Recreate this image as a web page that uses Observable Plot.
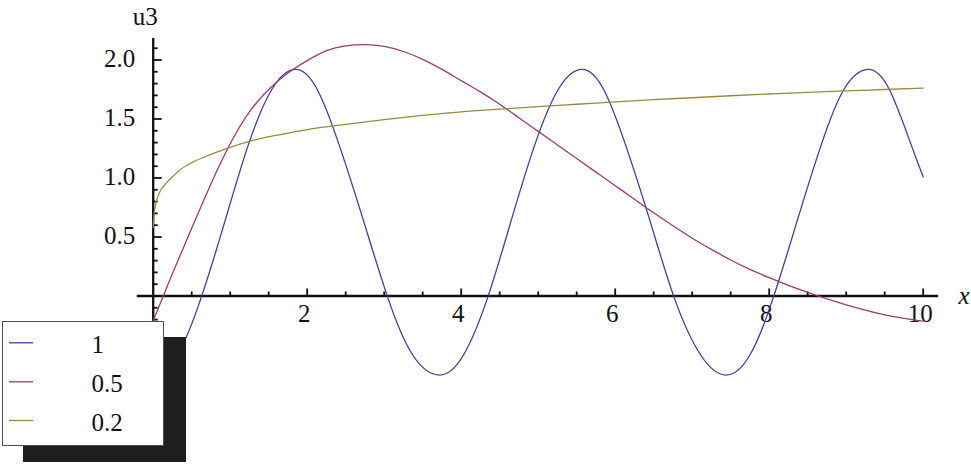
<!DOCTYPE html>
<html><head><meta charset="utf-8">
<script src="https://cdn.jsdelivr.net/npm/d3@7"></script>
<script src="https://cdn.jsdelivr.net/npm/@observablehq/plot@0.6"></script>
<style>
body{margin:0;background:#fff;}
#wrap{position:relative;width:971px;height:466px;overflow:hidden;font-family:"Liberation Serif","DejaVu Serif",serif;background:#fff;}
#chart{position:absolute;left:0;top:0;}
#shadow{position:absolute;left:22.5px;top:337px;width:163px;height:124.5px;background:#1e1e1e;}
#legend{position:absolute;left:1.5px;top:321px;width:162px;height:124.5px;box-sizing:border-box;border:1.5px solid #505050;background:#fff;}
#legend svg{position:absolute;left:0;top:0;}
</style></head><body>
<div id="wrap"><div id="chart"></div><div id="shadow"></div><div id="legend"></div></div>
<script>
// Series (legend order)
const seriesNames = ["1", "0.5", "0.2"];
const seriesColors = ["#3f3f9c", "#993d71", "#998b3d"];

// Series "1"
const blueX = [0, 0.31, 0.62, 0.93, 1.23, 1.54, 1.85, 2.13, 2.42, 2.735, 3.05, 3.37, 3.72, 4.03, 4.34, 4.645, 4.95, 5.26, 5.57, 5.85, 6.14, 6.455, 6.77, 7.11, 7.44, 7.75, 8.05, 8.36, 8.67, 8.97, 9.28, 9.56, 9.85, 10];
const blueY = [-0.67, -0.50, -0.02, 0.63, 1.27, 1.75, 1.92, 1.75, 1.27, 0.63, -0.02, -0.50, -0.67, -0.50, -0.02, 0.63, 1.27, 1.75, 1.92, 1.75, 1.27, 0.63, -0.02, -0.50, -0.67, -0.50, -0.02, 0.63, 1.27, 1.75, 1.92, 1.75, 1.27, 1.01];

// Series "0.5"
const redX = [0, 0.25, 0.5, 0.75, 1, 1.25, 1.5, 1.75, 2, 2.25, 2.5, 2.75, 3, 3.25, 3.5, 3.75, 4, 4.25, 4.5, 4.75, 5, 5.25, 5.5, 5.75, 6, 6.25, 6.5, 6.75, 7, 7.25, 7.5, 7.75, 8, 8.25, 8.5, 8.75, 9, 9.25, 9.5, 9.75, 10];
const redY = [-0.21, 0.19, 0.575, 0.95, 1.29, 1.56, 1.75, 1.89, 1.995, 2.08, 2.12, 2.13, 2.115, 2.072, 2.005, 1.92, 1.825, 1.73, 1.625, 1.51, 1.395, 1.28, 1.165, 1.05, 0.935, 0.82, 0.705, 0.595, 0.49, 0.395, 0.305, 0.225, 0.155, 0.09, 0.03, -0.025, -0.075, -0.12, -0.16, -0.19, -0.213];

// Series "0.2"
const oliveX = [0, 0.01, 0.03, 0.06, 0.1, 0.16, 0.25, 0.35, 0.5, 0.75, 1, 1.25, 1.5, 1.75, 2, 2.5, 3, 3.5, 4, 4.5, 5, 5.5, 6, 6.5, 7, 7.5, 8, 8.5, 9, 9.5, 10];
const oliveY = [0.58, 0.68, 0.77, 0.84, 0.90, 0.95, 1.01, 1.07, 1.13, 1.20, 1.26, 1.31, 1.35, 1.38, 1.41, 1.455, 1.495, 1.53, 1.56, 1.583, 1.605, 1.625, 1.645, 1.665, 1.68, 1.697, 1.712, 1.726, 1.738, 1.75, 1.761];

// Axis ticks
const xMajor = [2, 4, 6, 8, 10];
const xMinor = [0.5, 1, 1.5, 2.5, 3, 3.5, 4.5, 5, 5.5, 6.5, 7, 7.5, 8.5, 9, 9.5];
const yMajor = [0.5, 1.0, 1.5, 2.0];
const yMinor = [-0.7, -0.6, -0.5, -0.4, -0.3, -0.2, -0.1, 0.1, 0.2, 0.3, 0.4, 0.6, 0.7, 0.8, 0.9, 1.1, 1.2, 1.3, 1.4, 1.6, 1.7, 1.8, 1.9, 2.1];
const yLabel = "u3";
const xLabel = "x";

const pts = (xs, ys) => xs.map((x, i) => ({x, y: ys[i]}));
const seriesData = [pts(blueX, blueY), pts(redX, redY), pts(oliveX, oliveY)];
const seriesCurves = ["natural", "natural", "monotone-x"];

const fontStack = "'Liberation Serif', 'DejaVu Serif', serif";
const axisColor = "#111";
const chart = Plot.plot({
  width: 971,
  height: 466,
  marginLeft: 152.7,
  marginRight: 32.9,
  marginTop: 35.9,
  marginBottom: 87.9,
  x: {domain: [0, 10.2], axis: null},
  y: {domain: [-0.7, 2.2], axis: null},
  style: {background: "white", fontFamily: fontStack, overflow: "visible"},
  marks: [
    // axes lines
    Plot.ruleY([0], {stroke: axisColor, strokeWidth: 2.3, insetLeft: -16}),
    Plot.ruleX([0], {stroke: axisColor, strokeWidth: 2.3, insetTop: 2}),
    // y ticks
    Plot.ruleY(yMinor, {y: d => d, x1: 0, x2: 0, insetRight: -5, stroke: axisColor, strokeWidth: 1.8}),
    Plot.ruleY(yMajor, {y: d => d, x1: 0, x2: 0, insetRight: -9, stroke: axisColor, strokeWidth: 1.8}),
    // x ticks
    Plot.ruleX(xMinor, {x: d => d, y1: 0, y2: 0, insetTop: -4, stroke: axisColor, strokeWidth: 1.8}),
    Plot.ruleX(xMajor, {x: d => d, y1: 0, y2: 0, insetTop: -7, stroke: axisColor, strokeWidth: 1.8}),
    // tick labels
    Plot.text(yMajor, {x: 0, y: d => d, text: d => d.toFixed(1), textAnchor: "end", dx: -18, dy: -1, fontSize: 25, fontFamily: fontStack, fill: axisColor}),
    Plot.text(xMajor, {x: d => d, y: 0, text: d => String(d), dx: -3, dy: 18, fontSize: 25, fontFamily: fontStack, fill: axisColor}),
    // axis labels
    Plot.text([yLabel], {frameAnchor: "top-left", text: d => d, textAnchor: "middle", lineAnchor: "middle", dx: -8, dy: -19, fontSize: 25, fontFamily: fontStack, fill: axisColor}),
    Plot.text([xLabel], {frameAnchor: "right", y: 0, text: d => d, textAnchor: "start", lineAnchor: "middle", dx: 20, dy: 0, fontSize: 25, fontFamily: fontStack, fontStyle: "italic", fill: axisColor}),
    // curves
    ...seriesData.map((d, i) => Plot.line(d, {x: "x", y: "y", stroke: seriesColors[i], strokeWidth: 1.3, curve: seriesCurves[i]}))
  ]
});
document.getElementById("chart").appendChild(chart);

// Legend
const lg = d3.select("#legend").append("svg").attr("width", 159).attr("height", 122);
const rowY = [20.8, 59.8, 98.5];
seriesNames.forEach((name, i) => {
  lg.append("line").attr("x1", 6).attr("x2", 30).attr("y1", rowY[i]).attr("y2", rowY[i])
    .attr("stroke", seriesColors[i]).attr("stroke-width", 1.3);
  lg.append("text").attr("x", 88.5).attr("y", rowY[i] + 10)
    .attr("font-family", fontStack).attr("font-size", 25)
    .attr("fill", "#111").text(name);
});
</script>
</body></html>
